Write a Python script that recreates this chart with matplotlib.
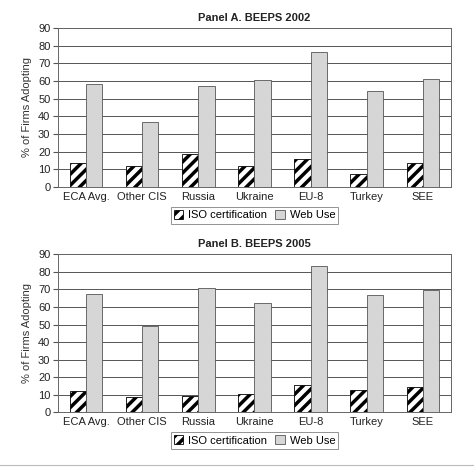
import matplotlib.pyplot as plt
import numpy as np

plt.rcParams['font.family'] = ['Liberation Sans', 'DejaVu Sans']
plt.rcParams['hatch.linewidth'] = 2.5

regions = ['ECA Avg.', 'Other CIS', 'Russia', 'Ukraine', 'EU-8', 'Turkey', 'SEE']

# Panel A. BEEPS 2002
iso_2002 = [13.4, 12.0, 18.5, 12.0, 15.8, 7.5, 13.4]
web_2002 = [58.2, 36.9, 57.2, 60.3, 76.5, 54.4, 61.2]

# Panel B. BEEPS 2005
iso_2005 = [12.3, 8.7, 9.5, 10.6, 15.4, 12.5, 14.2]
web_2005 = [67.4, 49.3, 70.8, 62.2, 83.5, 66.6, 69.8]

fig = plt.figure(figsize=(4.74, 4.67), dpi=100)
fs = 8.0


def panel(rect, title, iso, web):
    ax = fig.add_axes(rect)
    x = np.arange(len(regions))
    w = 0.29
    ax.bar(x - w / 2, iso, w, facecolor='white', edgecolor='black',
           hatch='///', linewidth=0.6, label='ISO certification', zorder=3)
    ax.bar(x + w / 2, web, w, facecolor='#d6d6d6', edgecolor='#555555',
           linewidth=0.6, label='Web Use', zorder=3)
    ax.set_xlim(-0.5, len(regions) - 0.5)
    ax.set_ylim(0, 90)
    ax.set_yticks(range(0, 91, 10))
    ax.set_xticks(x)
    ax.set_xticklabels(regions)
    ax.tick_params(axis='x', length=0, labelsize=fs, pad=3.5, colors='#222222')
    ax.tick_params(axis='y', length=3.5, labelsize=fs, pad=2, colors='#222222',
                   color='#555555')
    ax.yaxis.grid(True, color='#555555', linewidth=0.7, zorder=0)
    for s in ax.spines.values():
        s.set_color('#666666')
        s.set_linewidth(0.7)
    ax.set_ylabel('% of Firms Adopting', fontsize=fs, color='#333333', labelpad=4)
    ax.set_title(title, fontsize=fs, fontweight='bold', pad=5, color='#222222')
    leg = ax.legend(loc='center', bbox_to_anchor=(0.5, -0.178), ncol=2,
                    fontsize=fs, frameon=True, fancybox=False,
                    handlelength=0.85, handleheight=0.85, handletextpad=0.45,
                    columnspacing=0.7, borderpad=0.3, borderaxespad=0)
    leg.get_frame().set_edgecolor('#777777')
    leg.get_frame().set_linewidth(0.7)
    return ax


panel([0.1224, 0.5996, 0.829, 0.3405], 'Panel A. BEEPS 2002', iso_2002, web_2002)
panel([0.1224, 0.1171, 0.829, 0.3383], 'Panel B. BEEPS 2005', iso_2005, web_2005)

fig.add_artist(plt.Line2D([0, 1], [0.004, 0.004], color='#bbbbbb', linewidth=0.8))

fig.savefig('out.png', dpi=100)
